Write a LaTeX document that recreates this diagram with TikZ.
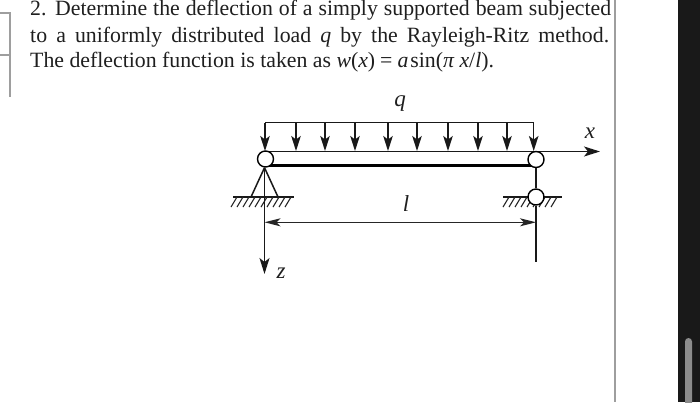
\documentclass[tikz,border=0pt]{standalone}
\usepackage{fontspec}
\setmainfont{Liberation Serif}
\usetikzlibrary{arrows.meta}
\tikzset{
  txt/.style={anchor=base west,inner sep=0pt,font=\fontsize{21.8}{25}\selectfont,text=black!88},
  lab/.style={inner sep=0pt,font=\fontsize{23}{25}\selectfont\itshape,text=black!88},
  pin/.style={circle,draw=black,line width=1.4pt,fill=white,minimum size=16pt,inner sep=0pt},
  ln/.style={line width=1.5pt,draw=black!90},
  thin line/.style={line width=1.3pt,draw=black!85},
  thick beam/.style={line width=2.6pt,draw=black},
  loadarr/.style={ln,-{Stealth[length=15pt,width=9.5pt,inset=3.5pt]}},
  axarr/.style={ln,-{Stealth[length=16pt,width=10pt,inset=4pt]}},
  dimarr/.style={thin line,{Stealth[length=16pt,width=8pt,inset=4pt]}-{Stealth[length=16pt,width=8pt,inset=4pt]}},
  hatchl/.style={line width=1.1pt,draw=black!85},
  uiline/.style={line width=1.3pt,draw=black!38},
}
\begin{document}
\begin{tikzpicture}[x=1pt,y=-1pt]
\useasboundingbox (0,0) rectangle (700,402);
\fill[white] (0,0) rectangle (700,402);
% window furniture
\fill[black!90!white] (678,0) rectangle (700,402);
\fill[black!45,rounded corners=3.5pt] (685,338) rectangle (692,410);
\draw[uiline] (615,0) -- (615,402);
\draw[uiline] (0,13) -- (10,13) -- (10,97);
\draw[uiline] (0,55) -- (10,55);
% text
\node[txt] (l1) at (30,15.6) {\makebox[581pt][s]{2. Determine the deflection of a simply supported beam subjected}};
\node[txt] (l2) at (30,42) {\makebox[579pt][s]{to a uniformly distributed load \textit{q} by the Rayleigh-Ritz method.}};
\node[txt] (l3) at (30,67.5) {The deflection function is taken as \textit{w}(\textit{x})\hspace{5pt}=\hspace{5pt}\textit{a}\hspace{2pt}sin(\textit{π}\hspace{5pt}\textit{x}/\textit{l}).};
% labels
\node[lab] (q) at (400,104) {q};
\node[lab] (xl) at (590,133) {x};
\node[lab] (ll) at (406,204) {l};
\node[lab] (zl) at (281,273) {z};
% named points
\coordinate (B) at (265,151.5);
\coordinate (Xend) at (600,151.5);
\coordinate (BL) at (265,165.7);
\coordinate (BR) at (535,165.7);
\coordinate (LT) at (265,122.7);
\coordinate (RT) at (533.7,122.7);
\coordinate (TipA) at (251,197);
\coordinate (TipB) at (278,197);
\coordinate (Zend) at (264.5,274);
\coordinate (Rend) at (536,262);
\coordinate (DL) at (264.5,222.3);
\coordinate (DR) at (536,222.3);
\coordinate (GLa) at (233,197);
\coordinate (GLb) at (294,197);
\coordinate (GRa) at (503,197);
\coordinate (GRb) at (562,197);
% load
\draw[ln] (LT) -- (RT);
\foreach \i/\px in {a/265,b/296,c/325,d/355,e/388,f/417,g/448,h/478,i/507,j/533.7}{
  \coordinate (s\i) at (\px,122.7);
  \coordinate (t\i) at (\px,151);
  \draw[loadarr] (s\i) -- (t\i);
}
% beam and axes
\draw[axarr] (B) -- (Xend);
\draw[thick beam] (BL) -- (BR);
% ground
\draw[ln] (GLa) -- (GLb);
\draw[ln] (GRa) -- (GRb);
\foreach \px in {237,243,...,292}{\draw[hatchl] (\px,197) -- (\px-6,207);}
\foreach \px in {509,515,...,562}{\draw[hatchl] (\px,197) -- (\px-6,207);}
% supports
\node[pin] (P1) at (265.5,159) {};
\draw[ln] (P1.south) ++(-1,0) -- (TipA);
\draw[ln] (P1.south) ++(-1,0) -- (TipB);
\draw[axarr] (P1.south -| Zend) -- (Zend);
\node[pin] (P2) at (536,159.5) {};
\node[pin] (P3) at (536,197) {};
\draw[ln] (P2.south) -- (P3.north);
\draw[ln] (P3.south) -- (Rend);
% dimension
\draw[dimarr] (DL) -- (DR);
\end{tikzpicture}
\end{document}
